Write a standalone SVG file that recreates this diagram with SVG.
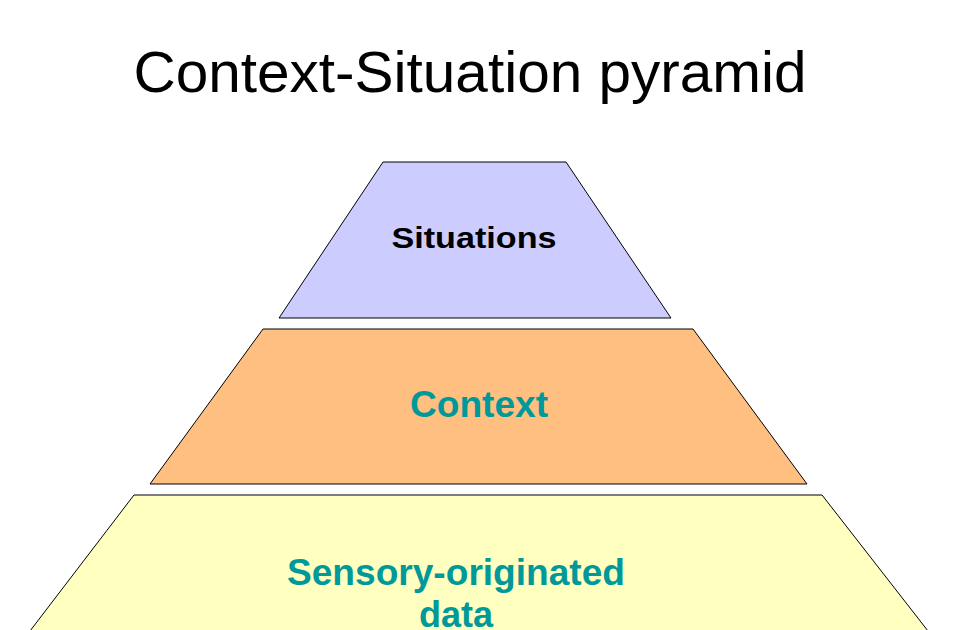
<svg xmlns="http://www.w3.org/2000/svg" width="960" height="630" viewBox="0 0 960 630">
<style>
.l{stroke:#000;stroke-width:1}
.t{font-family:"Liberation Sans",Arial,sans-serif;font-weight:bold;text-anchor:middle}
.teal{fill:#009999;font-size:36px}
</style>
<rect width="960" height="630" fill="#fff"/>
<text x="470" y="92" font-family="Liberation Sans,Arial,sans-serif" font-size="58" text-anchor="middle" textLength="673" lengthAdjust="spacingAndGlyphs">Context-Situation pyramid</text>
<g id="situations"><polygon class="l" fill="#CCCCFF" points="383,162 566,162 671,318 279,318"/><text class="t" x="474" y="248" font-size="29" textLength="165" lengthAdjust="spacingAndGlyphs">Situations</text></g>
<g id="context"><polygon class="l" fill="#FFBF80" points="263,329 693,329 807,484 150,484"/><text class="t teal" x="479" y="417" textLength="138" lengthAdjust="spacingAndGlyphs">Context</text></g>
<g id="sensory"><polygon class="l" fill="#FFFFC0" points="134,495 822,495 928,631 30,631"/><text class="t teal" x="456" y="585" textLength="338" lengthAdjust="spacingAndGlyphs">Sensory-originated</text><text class="t teal" x="456" y="627">data</text></g>
<g id="connectors"/>
</svg>
